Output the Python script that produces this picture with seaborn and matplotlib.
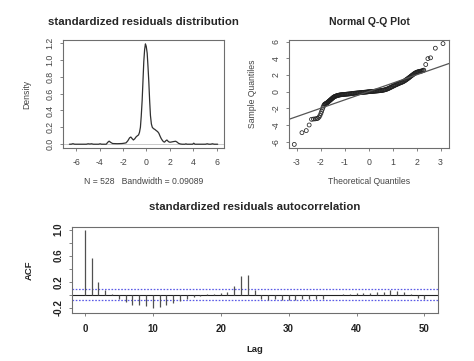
import numpy as np
import matplotlib
matplotlib.use("Agg")
import matplotlib.pyplot as plt
import seaborn as sns

# ---------------------------------------------------------------
# DATA
# ---------------------------------------------------------------
# kernel density of the standardized residuals
DENS_X = [-6.6, -6.45, -6.3, -6.15, -5.15, -5.0, -4.85, -4.7, -4.55, -4.1,
          -3.97, -3.85, -3.45, -3.3, -3.2, -3.05, -2.9, -2.5, -2.1, -1.9,
          -1.75, -1.6, -1.45, -1.34, -1.22, -1.12, -1.0, -0.9, -0.78, -0.68,
          -0.6, -0.52, -0.45, -0.37, -0.3, -0.23, -0.16, -0.09, -0.02, 0.06,
          0.13, 0.2, 0.27, 0.34, 0.42, 0.5, 0.6, 0.72, 0.85, 0.95,
          1.06, 1.15, 1.25, 1.34, 1.45, 1.55, 1.65, 1.75, 1.85, 1.95,
          2.06, 2.2, 2.35, 2.5, 2.62, 2.75, 2.9, 3.05, 3.3, 3.38,
          3.46, 3.95, 4.05, 4.15, 5.05, 5.2, 5.35, 5.5, 5.65, 5.8, 6.1]
DENS_Y = [0.0, 0.0, 0.006, 0.0, 0.0, 0.005, 0.002, 0.005, 0.0, 0.0,
          0.005, 0.0, 0.0, 0.025, 0.036, 0.02, 0.008, 0.006, 0.008, 0.012,
          0.016, 0.04, 0.075, 0.085, 0.065, 0.05, 0.065, 0.085, 0.1, 0.11,
          0.14, 0.2, 0.33, 0.52, 0.75, 0.98, 1.12, 1.19, 1.16, 1.08,
          0.92, 0.74, 0.52, 0.34, 0.24, 0.2, 0.185, 0.175, 0.16, 0.15,
          0.13, 0.1, 0.07, 0.05, 0.03, 0.025, 0.04, 0.05, 0.035, 0.025,
          0.024, 0.028, 0.032, 0.035, 0.025, 0.01, 0.003, 0.0, 0.0, 0.005,
          0.0, 0.0, 0.012, 0.0, 0.0, 0.005, 0.0, 0.0, 0.005, 0.0, 0.0]
DENS_NOTE = "N = 528   Bandwidth = 0.09089"

# normal Q-Q points (theoretical, sample quantiles)
QQ_THEO = [-3.10, -2.78, -2.60, -2.48, -2.38, -2.30, -2.23, -2.17, -2.12, -2.07,
           -2.03, -1.99, -1.96, -1.93, -1.90, -1.87, -1.84, -1.82, -1.80, -1.78,
           -1.76, -1.74, -1.72, -1.70, -1.68, -1.66, -1.64, -1.62, -1.60, -1.58,
           -1.56, -1.54, -1.52, -1.50, -1.48, -1.46, -1.44, -1.42, -1.39, -1.36,
           -1.34, -1.31, -1.28, -1.25, -1.22, -1.19, -1.16, -1.13, -1.10, -1.07,
           -1.04, -1.00, -0.97, -0.93, -0.90, -0.86, -0.83, -0.79, -0.76, -0.72,
           -0.69, -0.65, -0.62, -0.58, -0.55, -0.51, -0.48, -0.44, -0.41, -0.37,
           -0.34, -0.30, -0.27, -0.23, -0.20, -0.16, -0.13, -0.09, -0.06, -0.02,
           0.01, 0.05, 0.08, 0.12, 0.15, 0.19, 0.22, 0.26, 0.29, 0.33,
           0.36, 0.40, 0.43, 0.47, 0.50, 0.54, 0.57, 0.61, 0.64, 0.68,
           0.71, 0.75, 0.78, 0.82, 0.85, 0.89, 0.92, 0.96, 0.99, 1.03,
           1.06, 1.10, 1.13, 1.17, 1.20, 1.24, 1.27, 1.31, 1.34, 1.38,
           1.41, 1.45, 1.48, 1.52, 1.55, 1.58, 1.61, 1.64, 1.67, 1.70,
           1.73, 1.76, 1.79, 1.82, 1.85, 1.88, 1.91, 1.94, 1.97, 2.00,
           2.03, 2.06, 2.09, 2.13, 2.16, 2.20, 2.23, 2.27, 2.30, 2.38,
           2.47, 2.58, 2.78, 3.10]
QQ_SAMP = [-6.30, -4.90, -4.65, -3.98, -3.30, -3.27, -3.25, -3.22, -3.18, -3.05,
           -2.85, -2.60, -2.35, -2.10, -1.85, -1.65, -1.52, -1.48, -1.45, -1.41,
           -1.38, -1.34, -1.30, -1.25, -1.20, -1.15, -1.10, -1.05, -1.00, -0.95,
           -0.90, -0.85, -0.80, -0.75, -0.70, -0.66, -0.62, -0.58, -0.55, -0.52,
           -0.49, -0.46, -0.44, -0.42, -0.40, -0.38, -0.37, -0.36, -0.35, -0.34,
           -0.33, -0.32, -0.31, -0.30, -0.29, -0.28, -0.27, -0.26, -0.25, -0.23,
           -0.22, -0.20, -0.19, -0.18, -0.17, -0.16, -0.15, -0.14, -0.13, -0.12,
           -0.11, -0.10, -0.09, -0.08, -0.07, -0.06, -0.05, -0.04, -0.03, -0.01,
           0.00, 0.01, 0.02, 0.02, 0.03, 0.04, 0.05, 0.06, 0.07, 0.08,
           0.09, 0.10, 0.11, 0.12, 0.13, 0.14, 0.16, 0.18, 0.20, 0.23,
           0.26, 0.29, 0.33, 0.37, 0.42, 0.47, 0.52, 0.57, 0.62, 0.67,
           0.72, 0.77, 0.82, 0.86, 0.91, 0.95, 1.00, 1.04, 1.08, 1.12,
           1.16, 1.21, 1.27, 1.33, 1.40, 1.46, 1.52, 1.58, 1.65, 1.71,
           1.78, 1.85, 1.92, 1.98, 2.05, 2.11, 2.18, 2.23, 2.28, 2.31,
           2.35, 2.38, 2.40, 2.43, 2.45, 2.47, 2.50, 2.54, 2.58, 3.25,
           3.95, 4.05, 5.20, 5.75]
QQ_INTERCEPT = 0.02
QQ_SLOPE = 1.0

# autocorrelation of the standardized residuals, lags 0..50
ACF_LAGS = list(range(51))
ACF_VALS = [1.0, 0.56, 0.20, 0.07, 0.01, -0.06, -0.11, -0.15, -0.16, -0.18,
            -0.20, -0.19, -0.16, -0.13, -0.10, -0.07, -0.04, -0.02, 0.005, 0.01,
            0.02, 0.05, 0.13, 0.29, 0.31, 0.08, -0.06, -0.08, -0.07, -0.08,
            -0.08, -0.08, -0.07, -0.07, -0.07, -0.06, -0.01, 0.0, 0.01, 0.015,
            0.02, 0.025, 0.03, 0.035, 0.05, 0.075, 0.065, 0.05, 0.015, -0.05,
            -0.07]
ACF_CI = 0.087

W, H = 474, 361
BOX = "#6e6e6e"
TXT = "#444444"

sns.set_style("white")
plt.rcParams["font.family"] = ["Liberation Sans", "DejaVu Sans"]
plt.rcParams["axes.unicode_minus"] = False


def px_axes(fig, left, top, right, bottom):
    """axes placed by pixel edges of the reference picture"""
    return fig.add_axes([left / W, 1 - bottom / H, (right - left) / W, (bottom - top) / H])


def r_style(ax, color=TXT, bold=False, size=6.3, pad=4.5):
    for sp in ax.spines.values():
        sp.set_color(BOX)
        sp.set_linewidth(0.8)
    ax.tick_params(length=2.5, width=0.6, color=BOX, labelcolor=color,
                   labelsize=size, pad=pad, direction="out",
                   bottom=True, left=True)
    ax.tick_params(axis="y", pad=3.5)
    for lab in ax.get_xticklabels() + ax.get_yticklabels():
        if bold:
            lab.set_fontweight("bold")


fig = plt.figure(figsize=(W / 100, H / 100), dpi=100)

# --- density -----------------------------------------------------
ax1 = px_axes(fig, 63, 40, 224, 148)
ax1.axhline(0, color="#c0c0c0", lw=0.6)
sns.lineplot(x=DENS_X, y=DENS_Y, ax=ax1, color="#303030", lw=0.9,
             sort=False, estimator=None)
ax1.set_xlim(-7.15, 6.64)
ax1.set_ylim(-0.045, 1.236)
ax1.set_xticks(np.arange(-6, 7, 2))
ax1.set_yticks(np.arange(0, 1.21, 0.2))
ax1.set_yticklabels([f"{v:.1f}" for v in np.arange(0, 1.21, 0.2)],
                    rotation=90, va="center")
r_style(ax1)
ax1.set_title("standardized residuals distribution", fontsize=8.2,
              fontweight="bold", pad=11)
ax1.set_ylabel("Density", fontsize=6.2, color=TXT)
ax1.yaxis.set_label_coords(-0.2, 0.5)
ax1.set_xlabel(DENS_NOTE, fontsize=6.2, color=TXT)
ax1.xaxis.set_label_coords(0.5, -0.27)

# --- normal Q-Q ---------------------------------------------------
ax2 = px_axes(fig, 289, 40, 449, 148)
sns.scatterplot(x=QQ_THEO, y=QQ_SAMP, ax=ax2, marker="o", s=8,
                facecolor="none", edgecolor="#202020", linewidth=0.55)
ax2.axline((0, QQ_INTERCEPT), slope=QQ_SLOPE, color="#555555", lw=0.9)
ax2.set_xlim(-3.32, 3.35)
ax2.set_ylim(-6.73, 6.18)
ax2.set_xticks(np.arange(-3, 4, 1))
ax2.set_yticks(np.arange(-6, 7, 2))
ax2.set_yticklabels([str(v) for v in np.arange(-6, 7, 2)],
                    rotation=90, va="center")
r_style(ax2)
ax2.set_title("Normal Q-Q Plot", fontsize=7.5, fontweight="bold", pad=11)
ax2.set_ylabel("Sample Quantiles", fontsize=6.2, color=TXT)
ax2.yaxis.set_label_coords(-0.2, 0.5)
ax2.set_xlabel("Theoretical Quantiles", fontsize=6.2, color=TXT)
ax2.xaxis.set_label_coords(0.5, -0.27)

# --- ACF ------------------------------------------------------------
ax3 = px_axes(fig, 72, 227, 438, 313)
ax3.axhline(0, color="#202020", lw=0.8)
for c in (ACF_CI, -ACF_CI):
    ax3.axhline(c, color="#5a5ae6", lw=0.9, ls=(0, (1.3, 1.3)))
ax3.vlines(ACF_LAGS, 0, ACF_VALS, color="#505050", lw=0.9)
ax3.set_xlim(-1.9, 52)
ax3.set_ylim(-0.28, 1.04)
ax3.set_xticks(np.arange(0, 51, 10))
yt = np.round(np.arange(-0.2, 1.01, 0.2), 1)
ax3.set_yticks(yt)
ax3.set_yticklabels([f"{v:.1f}" if i % 2 == 0 else "" for i, v in enumerate(yt)],
                    rotation=90, va="center")
r_style(ax3, color="#222222", bold=True, size=7, pad=5.5)
ax3.set_title("standardized residuals autocorrelation", fontsize=8.2,
              fontweight="bold", pad=12)
ax3.set_ylabel("ACF", fontsize=6.8, fontweight="bold", color="#222222")
ax3.yaxis.set_label_coords(-0.105, 0.5)
ax3.set_xlabel("Lag", fontsize=6.8, fontweight="bold", color="#222222")
ax3.xaxis.set_label_coords(0.5, -0.37)

fig.savefig("out.png", dpi=100)
